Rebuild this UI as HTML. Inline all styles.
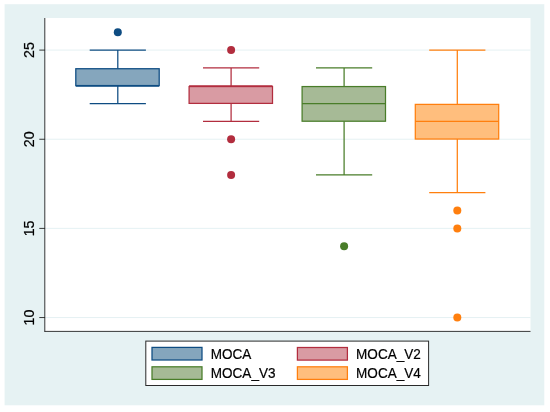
<!DOCTYPE html>
<html><head><meta charset="utf-8"><title>MOCA box plot</title>
<style>html,body{margin:0;padding:0;background:#fff}svg{display:block}</style></head>
<body>
<svg width="550" height="412" viewBox="0 0 550 412" font-family="&quot;Liberation Sans&quot;, Arial, sans-serif">
<rect x="0" y="0" width="550" height="412" fill="#ffffff"/>
<rect x="4.6" y="4.2" width="539.7" height="401.1" fill="#e6f2f3"/>
<rect x="45" y="18" width="485.5" height="313.4" fill="#ffffff"/>
<line x1="45" x2="530.5" y1="317.55" y2="317.55" stroke="#e2eff2" stroke-width="0.9"/>
<line x1="45" x2="530.5" y1="228.40" y2="228.40" stroke="#e2eff2" stroke-width="0.9"/>
<line x1="45" x2="530.5" y1="139.25" y2="139.25" stroke="#e2eff2" stroke-width="0.9"/>
<line x1="45" x2="530.5" y1="50.10" y2="50.10" stroke="#e2eff2" stroke-width="0.9"/>
<line x1="44.8" x2="44.8" y1="18" y2="331.8" stroke="#222" stroke-width="0.9"/>
<line x1="44.5" x2="530.5" y1="331.4" y2="331.4" stroke="#222" stroke-width="0.9"/>
<line x1="39.3" x2="45" y1="317.55" y2="317.55" stroke="#222" stroke-width="0.9"/>
<text transform="translate(34.4,317.55) rotate(-90)" text-anchor="middle" font-size="14.3" fill="#000" stroke="#000" stroke-width="0.2">10</text>
<line x1="39.3" x2="45" y1="228.40" y2="228.40" stroke="#222" stroke-width="0.9"/>
<text transform="translate(34.4,228.40) rotate(-90)" text-anchor="middle" font-size="14.3" fill="#000" stroke="#000" stroke-width="0.2">15</text>
<line x1="39.3" x2="45" y1="139.25" y2="139.25" stroke="#222" stroke-width="0.9"/>
<text transform="translate(34.4,139.25) rotate(-90)" text-anchor="middle" font-size="14.3" fill="#000" stroke="#000" stroke-width="0.2">20</text>
<line x1="39.3" x2="45" y1="50.10" y2="50.10" stroke="#222" stroke-width="0.9"/>
<text transform="translate(34.4,50.10) rotate(-90)" text-anchor="middle" font-size="14.3" fill="#000" stroke="#000" stroke-width="0.2">25</text>
<g stroke="#0e4c82" stroke-width="1.25" fill="none">
<line x1="117.80" x2="117.80" y1="50.10" y2="68.73"/>
<line x1="117.80" x2="117.80" y1="85.56" y2="103.59"/>
<line x1="89.70" x2="145.90" y1="50.10" y2="50.10"/>
<line x1="89.70" x2="145.90" y1="103.59" y2="103.59"/>
<rect x="75.80" y="68.73" width="83.4" height="16.83" fill="#85a6bd"/>
<line x1="75.80" x2="159.20" y1="86.16" y2="86.16"/>
</g>
<circle cx="117.80" cy="32.27" r="4" fill="#0e4c82"/>
<g stroke="#b22d3e" stroke-width="1.25" fill="none">
<line x1="231.10" x2="231.10" y1="67.93" y2="86.56"/>
<line x1="231.10" x2="231.10" y1="103.39" y2="121.42"/>
<line x1="203.00" x2="259.20" y1="67.93" y2="67.93"/>
<line x1="203.00" x2="259.20" y1="121.42" y2="121.42"/>
<rect x="189.10" y="86.56" width="83.4" height="16.83" fill="#d99ba3"/>
<line x1="189.10" x2="272.50" y1="85.86" y2="85.86"/>
</g>
<circle cx="231.10" cy="50.10" r="4" fill="#b22d3e"/>
<circle cx="231.10" cy="139.25" r="4" fill="#b22d3e"/>
<circle cx="231.10" cy="174.91" r="4" fill="#b22d3e"/>
<g stroke="#497d29" stroke-width="1.25" fill="none">
<line x1="344.10" x2="344.10" y1="67.93" y2="86.56"/>
<line x1="344.10" x2="344.10" y1="121.22" y2="174.91"/>
<line x1="316.00" x2="372.20" y1="67.93" y2="67.93"/>
<line x1="316.00" x2="372.20" y1="174.91" y2="174.91"/>
<rect x="302.10" y="86.56" width="83.4" height="34.66" fill="#a6ba96"/>
<line x1="302.10" x2="385.50" y1="103.59" y2="103.59"/>
</g>
<circle cx="344.10" cy="246.23" r="4" fill="#497d29"/>
<g stroke="#ff7f0e" stroke-width="1.25" fill="none">
<line x1="457.30" x2="457.30" y1="50.10" y2="104.39"/>
<line x1="457.30" x2="457.30" y1="139.05" y2="192.74"/>
<line x1="429.20" x2="485.40" y1="50.10" y2="50.10"/>
<line x1="429.20" x2="485.40" y1="192.74" y2="192.74"/>
<rect x="415.30" y="104.39" width="83.4" height="34.66" fill="#ffbe7d"/>
<line x1="415.30" x2="498.70" y1="121.42" y2="121.42"/>
</g>
<circle cx="457.30" cy="210.57" r="4" fill="#ff7f0e"/>
<circle cx="457.30" cy="228.40" r="4" fill="#ff7f0e"/>
<circle cx="457.30" cy="317.55" r="4" fill="#ff7f0e"/>
<rect x="145.8" y="341.1" width="282.8" height="44.4" fill="#ffffff" stroke="#2a2a2a" stroke-width="1"/>
<rect x="152.0" y="347.4" width="50" height="12.6" fill="#85a6bd" stroke="#0e4c82" stroke-width="1.25"/>
<text transform="translate(210.8,358.6) scale(0.94,1)" font-size="14.4" fill="#000" stroke="#000" stroke-width="0.2">MOCA</text>
<rect x="297.4" y="347.5" width="50" height="12.6" fill="#d99ba3" stroke="#b22d3e" stroke-width="1.25"/>
<text transform="translate(356.1,358.6) scale(0.94,1)" font-size="14.4" fill="#000" stroke="#000" stroke-width="0.2">MOCA_V2</text>
<rect x="152.0" y="366.8" width="50" height="12.6" fill="#a6ba96" stroke="#497d29" stroke-width="1.25"/>
<text transform="translate(210.8,378.3) scale(0.94,1)" font-size="14.4" fill="#000" stroke="#000" stroke-width="0.2">MOCA_V3</text>
<rect x="297.4" y="366.8" width="50" height="12.6" fill="#ffbe7d" stroke="#ff7f0e" stroke-width="1.25"/>
<text transform="translate(356.1,378.3) scale(0.94,1)" font-size="14.4" fill="#000" stroke="#000" stroke-width="0.2">MOCA_V4</text>
</svg>
</body></html>
